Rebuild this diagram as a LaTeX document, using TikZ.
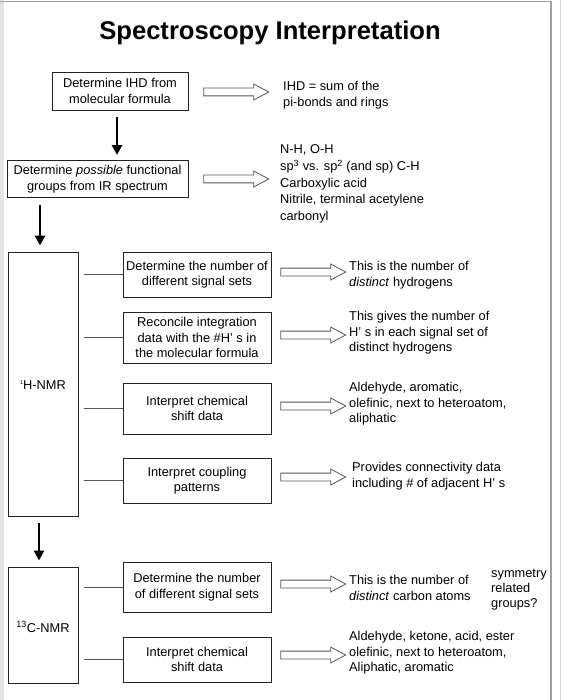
\documentclass[tikz,border=0pt]{standalone}
\usepackage{fontspec}
\setmainfont{Liberation Sans}
\usetikzlibrary{arrows.meta,shapes.arrows,calc}
\definecolor{edge}{HTML}{222222}
\definecolor{hol}{HTML}{555555}
\tikzset{
  txt/.style={font=\fontsize{12.8}{15.6}\selectfont, inner sep=0pt, align=left, anchor=west, text=black},
  box/.style={draw=edge, line width=0.9pt, font=\fontsize{12.8}{15.6}\selectfont, align=center, inner sep=1pt, text=black},
  sidebox/.style={box, minimum width=70pt},
  subbox/.style={box, minimum width=148pt},
  harrow/.style={single arrow, draw=hol, fill=white, line width=0.8pt, inner sep=3.5pt,
    single arrow head extend=4pt, single arrow tip angle=56, minimum height=65pt, minimum width=15pt},
  downarr/.style={line width=2.6pt, black, -{Triangle[width=10pt,length=10pt]}},
  conn/.style={draw=hol, line width=0.8pt}
}
\begin{document}
\begin{tikzpicture}[x=1pt,y=-1pt]
\useasboundingbox (0,0) rectangle (562,700);
% frame
\fill[gray!22] (0,0) rectangle (4,700);
\draw[gray!75, line width=1.3pt] (0,1.5) -- (551,1.5) -- (551,700);
\draw[gray!30, line width=0.8pt] (560,0) -- (560,700);

\node[font=\bfseries\fontsize{25.6}{30}\selectfont] (title) at (270,33) {Spectroscopy Interpretation};

% step 1
\node[box, minimum width=136pt, minimum height=38pt] (b1) at (120,91) {Determine IHD from\\molecular formula};
\node[harrow] (a1) at (232.5,92) {};
\node[txt] (t1) at (283,95) {IHD = sum of the\\pi-bonds and rings};

% step 2
\node[box, minimum width=181pt, minimum height=37pt] (b2) at (97.5,179) {Determine \textit{possible} functional\\groups from IR spectrum};
\node[harrow] (a2) at (232.5,179) {};
\node[txt, font=\fontsize{12.8}{16.6}\selectfont] (t2) at (280,184) {N-H, O-H\\sp\textsuperscript{3} vs. sp\textsuperscript{2} (and sp) C-H\\Carboxylic acid\\Nitrile, terminal acetylene\\carbonyl};

\draw[downarr] ([xshift=-3pt,yshift=-7pt]b1.south) -- ($(b1.south |- b2.north)+(-3,-5)$);

% H-NMR
\node[sidebox, minimum height=264pt] (hb) at (43,384) {};
\node[font=\fontsize{12.8}{15.6}\selectfont] (hl) at (43,385) {\raisebox{4.5pt}{\fontsize{5.5}{6}\selectfont 1}H-NMR};
\draw[downarr] ($(b2.south -| hb.north)+(-3,7)$) -- ($(hb.north)+(-3,-6)$);

\node[subbox, minimum height=45pt] (s1) at (197,274.5) {Determine the number of\\different signal sets};
\node[subbox, minimum height=51pt] (s2) at (197,337.5) {Reconcile integration\\data with the \#H’ s in\\the molecular formula};
\node[subbox, minimum height=51pt] (s3) at (197,408.5) {Interpret chemical\\shift data};
\node[subbox, minimum height=45pt] (s4) at (197,480.5) {Interpret coupling\\patterns};

\foreach \s in {s1,s2,s3,s4}{
  \draw[conn] ($(hb.east |- \s.west)+(6,0)$) -- (\s.west);
}

\node[harrow] (h1) at (309.5,272) {};
\node[harrow] (h2) at (309.5,335) {};
\node[harrow] (h3) at (309.5,406) {};
\node[harrow] (h4) at (309.5,477) {};

\node[txt] (r1) at (349,275) {This is the number of\\\textit{distinct} hydrogens};
\node[txt] (r2) at (349,333) {This gives the number of\\H’ s in each signal set of\\distinct hydrogens};
\node[txt] (r3) at (349,404) {Aldehyde, aromatic,\\olefinic, next to heteroatom,\\aliphatic};
\node[txt] (r4) at (352,476) {Provides connectivity data\\including \# of adjacent H’ s};

% C-NMR
\node[sidebox, minimum height=116pt] (cb) at (43,625) {};
\node[font=\fontsize{12.8}{15.6}\selectfont] (cl) at (43,627) {\textsuperscript{13}C-NMR};
\draw[downarr] ($(hb.south)+(-4,7)$) -- ($(cb.north)+(-4,-6)$);

\node[subbox, minimum height=50pt] (c1) at (197,587) {Determine the number\\of different signal sets};
\node[subbox, minimum height=45pt] (c2) at (197,659.5) {Interpret chemical\\shift data};
\foreach \s in {c1,c2}{
  \draw[conn] ($(cb.east |- \s.west)+(6,0)$) -- (\s.west);
}
\node[harrow] (ch1) at (309.5,584) {};
\node[harrow] (ch2) at (309.5,655) {};

\node[txt] (rc1) at (349,588) {This is the number of\\\textit{distinct} carbon atoms};
\node[txt, font=\fontsize{12.8}{15}\selectfont] (sym) at (491,590) {symmetry\\related\\groups?};
\node[txt] (rc2) at (349,653) {Aldehyde, ketone, acid, ester\\olefinic, next to heteroatom,\\Aliphatic, aromatic};
\end{tikzpicture}
\end{document}
